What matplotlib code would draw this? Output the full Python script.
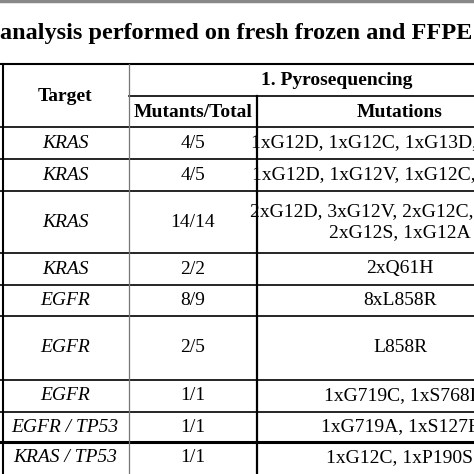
import matplotlib
matplotlib.use("Agg")
import matplotlib.pyplot as plt

title = "analysis performed on fresh frozen and FFPE samples"
targets = ["KRAS", "KRAS", "KRAS", "KRAS", "EGFR", "EGFR", "EGFR", "EGFR / TP53", "KRAS / TP53"]
mutants = ["4/5", "4/5", "14/14", "2/2", "8/9", "2/5", "1/1", "1/1", "1/1"]
mutations = ["1xG12D, 1xG12C, 1xG13D, 1xG12V",
             "1xG12D, 1xG12V, 1xG12C, 1xG13D",
             "2xG12D, 3xG12V, 2xG12C, 1xG13D,\n2xG12S, 1xG12A",
             "2xQ61H", "8xL858R", "L858R",
             "1xG719C, 1xS768I", "1xG719A, 1xS127F", "1xG12C, 1xP190S"]

row_edges = [127, 159, 191, 253, 285, 316, 380, 412, 442, 474]

fig = plt.figure(figsize=(4.74, 4.74), dpi=100)
ax = fig.add_axes([0, 0, 1, 1])
ax.set_xlim(0, 474)
ax.set_ylim(474, 0)
ax.axis("off")
serif = "Liberation Serif"
fs = 14

ax.axhline(1, color="#888888", lw=2.5)
ax.text(0, 33, title, fontsize=17.5, fontweight="bold", family=serif, va="center", ha="left", clip_on=True)

ax.plot([0, 474], [64, 64], color="black", lw=1.5)
ax.plot([129, 474], [96, 96], color="black", lw=1.2)
for y in row_edges[:-1]:
    ax.plot([0, 474], [y, y], color="black", lw=2.2 if y == 442 else 1.2)
ax.plot([3, 3], [64, 474], color="black", lw=1.5)
ax.plot([129, 129], [64, 474], color="#777777", lw=0.9)
ax.plot([257, 257], [96, 474], color="black", lw=1.6)

ax.text(65, 96, "Target", fontsize=fs, fontweight="bold", family=serif, ha="center", va="center")
ax.text(337, 80, "1. Pyrosequencing", fontsize=fs, fontweight="bold", family=serif, ha="center", va="center")
ax.text(193, 112, "Mutants/Total", fontsize=fs, fontweight="bold", family=serif, ha="center", va="center")
ax.text(400, 112, "Mutations", fontsize=fs, fontweight="bold", family=serif, ha="center", va="center")

for i in range(len(targets)):
    yc = (row_edges[i] + row_edges[i + 1]) / 2
    ax.text(65, yc, targets[i], fontsize=fs, style="italic", family=serif, ha="center", va="center")
    ax.text(193, yc, mutants[i], fontsize=fs, family=serif, ha="center", va="center")
    ax.text(400, yc, mutations[i], fontsize=fs, family=serif, ha="center", va="center",
            linespacing=1.25, clip_on=True)

fig.savefig("out.png", dpi=100)
